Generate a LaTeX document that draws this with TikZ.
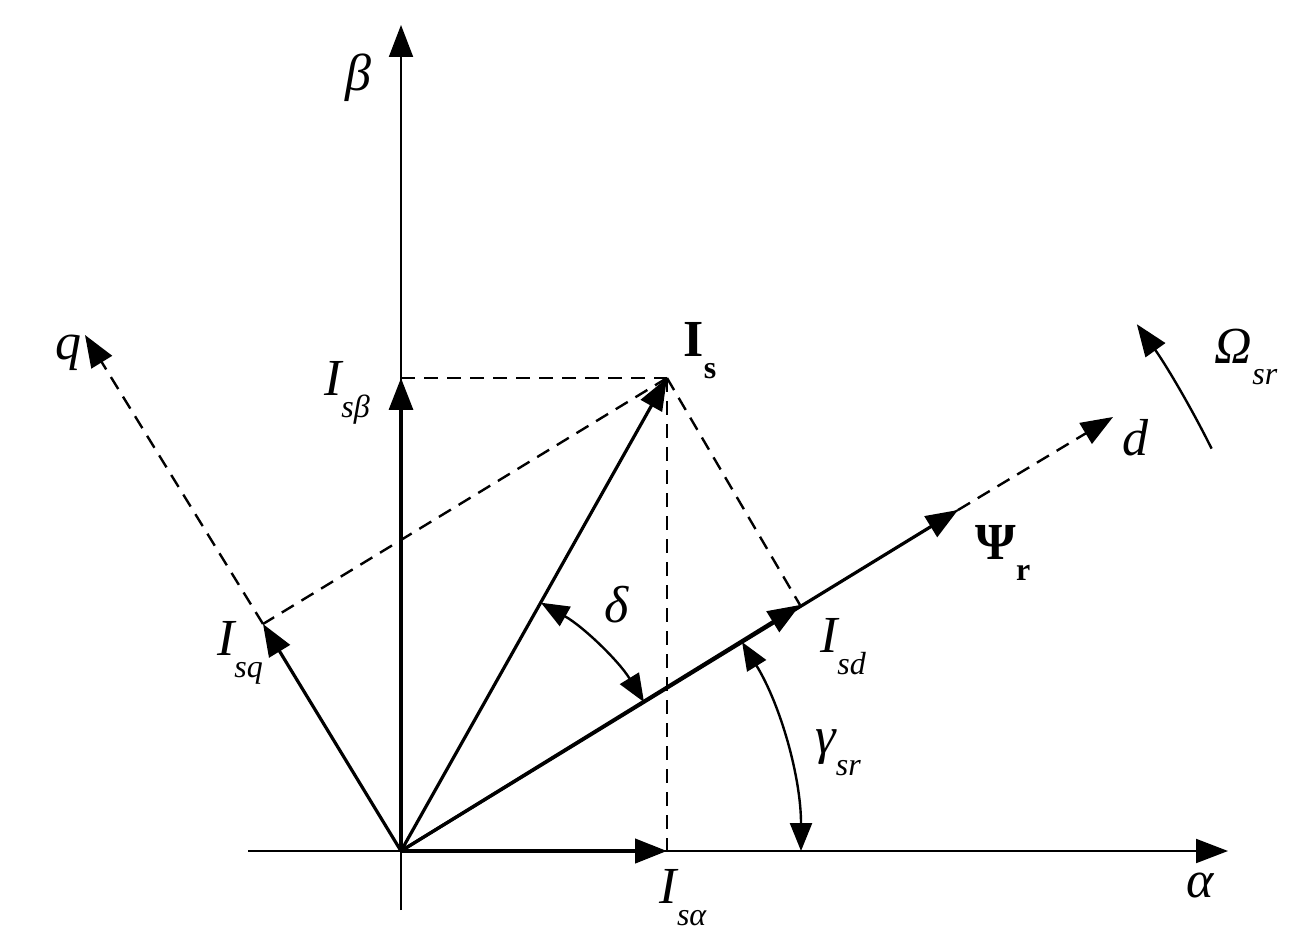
\documentclass[tikz,border=0pt]{standalone}
\usepackage{fontspec}
\setmainfont{Liberation Serif}
\usetikzlibrary{arrows.meta}
\newcommand{\idx}[2]{#1\raisebox{-0.42em}{\fontsize{16}{16}\selectfont #2}}
\begin{document}
\begin{tikzpicture}[x=0.5pt,y=0.5pt,
	tip/.style={-{Triangle[length=16pt,width=12pt]}},
	axis/.style={line width=1pt},
	vec/.style={line width=1.6pt, tip},
	proj/.style={line width=1.2pt, dash pattern=on 7pt off 4.5pt},
	angarc/.style={line width=1.2pt, {Triangle[length=14pt,width=11pt]}-{Triangle[length=14pt,width=11pt]}},
	lbl/.style={inner sep=0pt, font=\fontsize{26}{30}\selectfont}]%
	\useasboundingbox (0,0) rectangle (1309,943);
	% origin and vector tips
	\coordinate (O) at (401,92);
	\coordinate (aL) at (248,92);
	\coordinate (aR) at (1228,92);
	\coordinate (bD) at (401,33);
	\coordinate (bU) at (401,918);
	\coordinate (Is) at (667,565);
	\coordinate (Isb) at (401,565);
	\coordinate (Isa) at (667,92);
	\coordinate (Isd) at (800,338);
	\coordinate (Isq) at (263,319);
	\coordinate (Psi) at (958,433);
	\coordinate (dT) at (1113,526);
	\coordinate (qT) at (85,608);
	% axes
	\draw[axis, tip] (aL) -- (aR);
	\draw[axis, tip] (bD) -- (bU);
	\draw[axis] (O) -- (Psi);
	\draw[proj, tip] (Psi) -- (dT);
	\draw[proj, tip] (Isq) -- (qT);
	% projections
	\draw[proj] (Isb) -- (Is);
	\draw[proj] (Is) -- (Isa);
	\draw[proj] (Is) -- (Isd);
	\draw[proj] (Is) -- (Isq);
	% vectors
	\draw[vec] (O) -- (Is);
	\draw[vec] (O) -- (Isb);
	\draw[vec, line width=2.2pt] (O) -- (Isa);
	\draw[vec] (O) -- (Isd);
	\draw[vec] (O) -- (Isq);
	\draw[vec] (O) -- (Psi);
	% angles
	\draw[angarc] ([shift={(31.5:285)}]O) arc (31.5:60.6:285);
	\draw[angarc] ([shift={(0:400)}]O) arc (0:31.5:400);
	\draw[line width=1.2pt, tip] ([shift={(26.4:905)}]O) arc (26.4:35.6:905);
	% labels
	\node[lbl] (la) at (1200,58) {\itshape α};
	\node[lbl] (lb) at (358,865) {\itshape β};
	\node[lbl] (lq) at (68,590) {\itshape q};
	\node[lbl] (ld) at (1135,505) {\itshape d};
	\node[lbl] (lIs) at (700,592) {\bfseries\idx{I}{s}};
	\node[lbl] (lIsb) at (347,550) {\itshape\idx{I}{sβ}};
	\node[lbl] (lIsa) at (683,45) {\itshape\idx{I}{sα}};
	\node[lbl] (lIsd) at (843,296) {\itshape\idx{I}{sd}};
	\node[lbl] (lIsq) at (240,290) {\itshape\idx{I}{sq}};
	\node[lbl] (lPsi) at (1003,390) {\bfseries\idx{Ψ}{r}};
	\node[lbl] (ldel) at (617,338) {\itshape δ};
	\node[lbl] (lgam) at (838,190) {\itshape\idx{γ}{sr}};
	\node[lbl] (lOm) at (1246,586) {\itshape\idx{Ω}{sr}};
\end{tikzpicture}
\end{document}
